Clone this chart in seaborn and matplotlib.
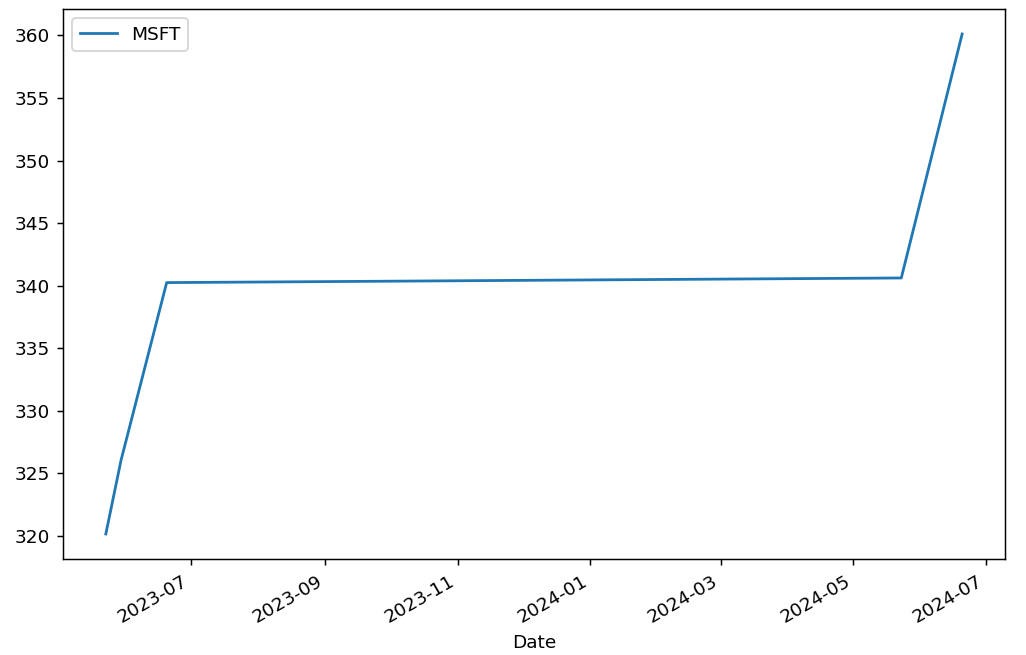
import pandas as pd
import matplotlib
matplotlib.use("Agg")
import matplotlib.pyplot as plt
import seaborn as sns

dates = ["2023-05-23", "2023-05-30", "2023-06-20", "2024-05-23", "2024-06-20"]
msft = [320.16, 326.05, 340.25, 340.62, 360.12]

df = pd.DataFrame({"Date": pd.to_datetime(dates), "MSFT": msft})

DPI = 133
fig, ax = plt.subplots(figsize=(1026 / DPI, 655 / DPI), dpi=DPI)

sns.lineplot(data=df, x="Date", y="MSFT", ax=ax, label="MSFT", color="#1f77b4")
ax.set_ylabel("")
ax.set_xlabel("Date")
ax.legend(loc="upper left")
fig.autofmt_xdate()
fig.subplots_adjust(left=0.0614, right=0.9795, top=0.9863, bottom=0.1466)

plt.savefig("out.png", dpi=DPI)
